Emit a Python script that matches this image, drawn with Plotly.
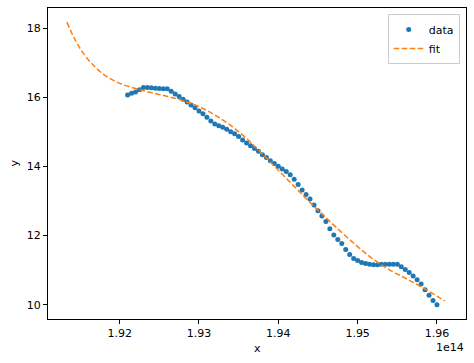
import plotly.graph_objects as go

# x values in units of 1e14
data_x = [1.9210, 1.9215, 1.9220, 1.9225, 1.9230, 1.9235, 1.9240, 1.9245, 1.9250, 1.9255,
          1.9260, 1.9265, 1.9270, 1.9275, 1.9280, 1.9285, 1.9290, 1.9295, 1.9300, 1.9305,
          1.9310, 1.9315, 1.9320, 1.9325, 1.9330, 1.9335, 1.9340, 1.9345, 1.9350, 1.9355,
          1.9360, 1.9365, 1.9370, 1.9375, 1.9380, 1.9385, 1.9390, 1.9395, 1.9400, 1.9405,
          1.9410, 1.9415, 1.9420, 1.9425, 1.9430, 1.9435, 1.9440, 1.9445, 1.9450, 1.9455,
          1.9460, 1.9465, 1.9470, 1.9475, 1.9480, 1.9485, 1.9490, 1.9495, 1.9500, 1.9505,
          1.9510, 1.9515, 1.9520, 1.9525, 1.9530, 1.9535, 1.9540, 1.9545, 1.9550, 1.9555,
          1.9560, 1.9565, 1.9570, 1.9575, 1.9580, 1.9585, 1.9590, 1.9595, 1.9600]
data_y = [16.07, 16.12, 16.16, 16.22, 16.29, 16.29, 16.28, 16.27, 16.26, 16.25,
          16.25, 16.18, 16.10, 16.03, 15.95, 15.87, 15.78, 15.70, 15.61, 15.53,
          15.43, 15.32, 15.23, 15.18, 15.14, 15.08, 15.01, 14.95, 14.87, 14.77,
          14.68, 14.60, 14.52, 14.44, 14.34, 14.26, 14.17, 14.09, 14.01, 13.93,
          13.86, 13.76, 13.63, 13.48, 13.32, 13.19, 13.06, 12.89, 12.72, 12.57,
          12.41, 12.20, 12.02, 11.89, 11.77, 11.60, 11.45, 11.34, 11.28, 11.22,
          11.19, 11.17, 11.16, 11.16, 11.17, 11.17, 11.17, 11.17, 11.17, 11.10,
          11.02, 10.93, 10.83, 10.72, 10.60, 10.43, 10.27, 10.12, 10.00]

fit_x = [1.91336, 1.91441, 1.91567, 1.91693, 1.91819, 1.92008, 1.92261, 1.92513, 1.92765,
         1.9300, 1.9320, 1.9340, 1.9360, 1.9380, 1.9400, 1.9420, 1.9440, 1.9460,
         1.9480, 1.9500, 1.9520, 1.9540, 1.9560, 1.9580, 1.9610]
fit_y = [18.18, 17.66, 17.20, 16.88, 16.63, 16.40, 16.22, 16.08, 15.93,
         15.735, 15.495, 15.19, 14.81, 14.365, 13.895, 13.425, 12.96, 12.52,
         12.09, 11.68, 11.31, 11.01, 10.77, 10.52, 10.11]

x_ticks = [1.92, 1.93, 1.94, 1.95, 1.96]
y_ticks = [10, 12, 14, 16, 18]

FONT = dict(family="DejaVu Sans", size=11, color="black")

fig = go.Figure()
fig.add_trace(go.Scatter(x=data_x, y=data_y, mode="markers", name="data",
                         marker=dict(color="#1f77b4", size=5)))
fig.add_trace(go.Scatter(x=fit_x, y=fit_y, mode="lines", name="fit", line_shape="spline",
                         line=dict(color="#ff7f0e", width=1.5, dash="5.5px,2.5px")))

axis_common = dict(showline=True, mirror=True, linecolor="black", linewidth=1,
                   ticks="outside", ticklen=4, tickwidth=1, tickcolor="black",
                   showgrid=False, zeroline=False, automargin=False,
                   tickfont=FONT)

fig.update_layout(
    width=474, height=363,
    margin=dict(l=48, r=8, t=8, b=44, autoexpand=False),
    paper_bgcolor="white", plot_bgcolor="white",
    font=FONT,
    xaxis=dict(range=[1.91097, 1.96366], tickvals=x_ticks, tickformat=".2f", **axis_common),
    yaxis=dict(range=[9.586, 18.59], tickvals=y_ticks, **axis_common),
    legend=dict(x=0.985, y=0.981, xanchor="right", yanchor="top",
                bgcolor="rgba(255,255,255,0.8)", bordercolor="#cccccc", borderwidth=1,
                font=FONT, tracegroupgap=0, itemwidth=30),
    showlegend=True,
    annotations=[
        dict(text="x", xref="paper", yref="paper", x=0.5, y=0, yshift=-29,
             xanchor="center", yanchor="middle", showarrow=False, font=FONT),
        dict(text="y", xref="paper", yref="paper", x=0, y=0.5, xshift=-34,
             xanchor="center", yanchor="middle", showarrow=False, textangle=-90, font=FONT),
        dict(text="1e14", xref="paper", yref="paper", x=1, y=0, yshift=-28,
             xanchor="right", yanchor="middle", showarrow=False, font=FONT),
    ],
)

fig.write_html("out.html", config={"displayModeBar": False},
               post_script="document.body.style.margin='0';document.body.style.overflow='hidden';")
